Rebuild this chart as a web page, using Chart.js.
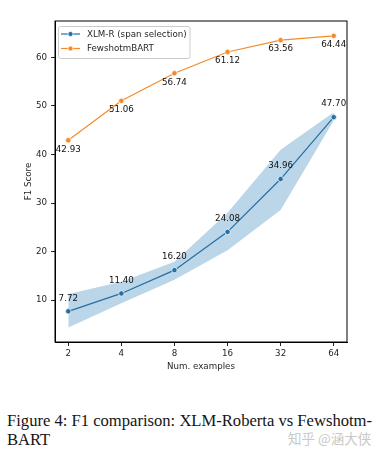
<!DOCTYPE html>
<html><head><meta charset="utf-8">
<script src="https://cdn.jsdelivr.net/npm/chart.js@4/dist/chart.umd.min.js"></script>
<style>
html,body{margin:0;padding:0;background:#fff;width:383px;height:458px;overflow:hidden;}
canvas{position:absolute;left:0;top:0;}
#cap{position:absolute;left:7px;top:411px;font-family:"Liberation Serif","Times New Roman",serif;font-size:16.6px;line-height:19.3px;color:#151515;white-space:nowrap;}
#wm{position:absolute;left:288px;top:432px;font-family:"Noto Sans CJK SC",sans-serif;font-size:13.5px;line-height:1;color:#c9c9c9;white-space:nowrap;}
</style></head>
<body>
<canvas id="c" width="383" height="380"></canvas>
<div id="cap">Figure 4: F1 comparison: XLM-Roberta vs Fewshotm-<br>BART</div>
<div id="wm">知乎 @涵大侠</div>
<script>
const xLabels = ['2', '4', '8', '16', '32', '64'];
const xlmr = [7.72, 11.40, 16.20, 24.08, 34.96, 47.70];
const xlmrUpper = [11.3, 13.8, 17.9, 28.0, 41.0, 48.7];
const xlmrLower = [4.4, 9.4, 14.2, 20.3, 28.6, 47.0];
const bart = [42.93, 51.06, 56.74, 61.12, 63.56, 64.44];
const yTicks = [10, 20, 30, 40, 50, 60];
const seriesNames = ['XLM-R (span selection)', 'FewshotmBART'];
const xTitle = 'Num. examples';
const yTitle = 'F1 Score';

const BLUE = '#236fa6', ORANGE = '#f58a2a', TXT = '#262626';
const FONT = 'DejaVu Sans';
const FS = 8.7;
const pts = a => a.map((v, i) => ({x: i, y: v}));

const framePlugin = {
  id: 'frame',
  afterDatasetsDraw(chart) {
    const {ctx, chartArea: a} = chart;
    ctx.save();
    ctx.strokeStyle = '#000';
    ctx.lineWidth = 1;
    ctx.strokeRect(a.left, a.top, a.right - a.left, a.bottom - a.top);
    ctx.restore();
  }
};

const labelPlugin = {
  id: 'valueLabels',
  afterDatasetsDraw(chart) {
    const {ctx} = chart;
    ctx.save();
    ctx.font = FS + 'px "' + FONT + '"';
    ctx.fillStyle = '#111';
    ctx.textAlign = 'center';
    ctx.textBaseline = 'middle';
    const mb = chart.getDatasetMeta(2);
    mb.data.forEach((p, i) => ctx.fillText(xlmr[i].toFixed(2), p.x, p.y - 13));
    const mo = chart.getDatasetMeta(3);
    mo.data.forEach((p, i) => ctx.fillText(bart[i].toFixed(2), p.x, p.y + 9));
    ctx.restore();
  }
};

const legendPlugin = {
  id: 'innerLegend',
  afterDraw(chart) {
    const {ctx} = chart;
    ctx.save();
    const bx = 58.5, by = 26.5, bw = 131.5, bh = 32;
    ctx.beginPath();
    ctx.roundRect(bx, by, bw, bh, 2);
    ctx.fillStyle = 'rgba(255,255,255,0.8)';
    ctx.fill();
    ctx.strokeStyle = '#cccccc';
    ctx.lineWidth = 1;
    ctx.stroke();
    const cols = [BLUE, ORANGE];
    const ys = [34, 48.5];
    ctx.font = FS + 'px "' + FONT + '"';
    ctx.textBaseline = 'middle';
    ctx.textAlign = 'left';
    seriesNames.forEach((n, i) => {
      ctx.strokeStyle = cols[i];
      ctx.lineWidth = 1.2;
      ctx.beginPath();
      ctx.moveTo(61, ys[i]);
      ctx.lineTo(80, ys[i]);
      ctx.stroke();
      ctx.beginPath();
      ctx.arc(70.5, ys[i], 2.5, 0, Math.PI * 2);
      ctx.fillStyle = cols[i];
      ctx.fill();
      ctx.strokeStyle = '#fff';
      ctx.lineWidth = 0.7;
      ctx.stroke();
      ctx.fillStyle = TXT;
      ctx.fillText(n, 87, ys[i] + 0.5);
    });
    ctx.restore();
  }
};

new Chart(document.getElementById('c'), {
  type: 'line',
  data: {
    datasets: [
      {label: 'upper', data: pts(xlmrUpper), borderWidth: 0, borderColor: 'rgba(0,0,0,0)', pointRadius: 0, fill: '+1', backgroundColor: 'rgba(31,119,180,0.3)', tension: 0},
      {label: 'lower', data: pts(xlmrLower), borderWidth: 0, borderColor: 'rgba(0,0,0,0)', pointRadius: 0, fill: false, tension: 0},
      {label: seriesNames[0], data: pts(xlmr), borderColor: BLUE, backgroundColor: BLUE, borderWidth: 1.2, pointRadius: 2.7, pointBackgroundColor: BLUE, pointBorderColor: '#fff', pointBorderWidth: 0.7, fill: false, tension: 0},
      {label: seriesNames[1], data: pts(bart), borderColor: ORANGE, backgroundColor: ORANGE, borderWidth: 1.2, pointRadius: 2.7, pointBackgroundColor: ORANGE, pointBorderColor: '#fff', pointBorderWidth: 0.7, fill: false, tension: 0}
    ]
  },
  options: {
    responsive: false,
    animation: false,
    events: [],
    layout: {padding: {left: 0, top: 21, right: 36, bottom: 0}},
    plugins: {
      legend: {display: false},
      tooltip: {enabled: false},
      filler: {drawTime: 'beforeDatasetsDraw'}
    },
    scales: {
      x: {
        type: 'linear', min: -0.25, max: 5.25,
        afterBuildTicks: s => { s.ticks = xLabels.map((_, i) => ({value: i})); },
        afterFit: s => { s.height = 38; },
        ticks: {callback: (v) => xLabels[v], color: TXT, font: {family: FONT, size: FS}, padding: 3, maxRotation: 0, autoSkip: false},
        grid: {display: true, drawOnChartArea: false, drawTicks: true, tickLength: 4, color: '#000', tickColor: '#222', tickWidth: 1},
        border: {display: true, color: '#000', width: 1},
        title: {display: true, text: xTitle, color: TXT, font: {family: FONT, size: FS}, padding: {top: 0, bottom: 8}}
      },
      y: {
        type: 'linear', min: 1.4, max: 67.5,
        afterBuildTicks: s => { s.ticks = yTicks.map(v => ({value: v})); },
        afterFit: s => { s.width = 55; },
        ticks: {color: TXT, font: {family: FONT, size: FS}, padding: 4},
        grid: {display: true, drawOnChartArea: false, drawTicks: true, tickLength: 4, color: '#000', tickColor: '#222', tickWidth: 1},
        border: {display: true, color: '#000', width: 1},
        title: {display: true, text: yTitle, color: TXT, font: {family: FONT, size: FS}, padding: {top: 24, bottom: 0}}
      }
    }
  },
  plugins: [framePlugin, labelPlugin, legendPlugin]
});
</script>
</body></html>
